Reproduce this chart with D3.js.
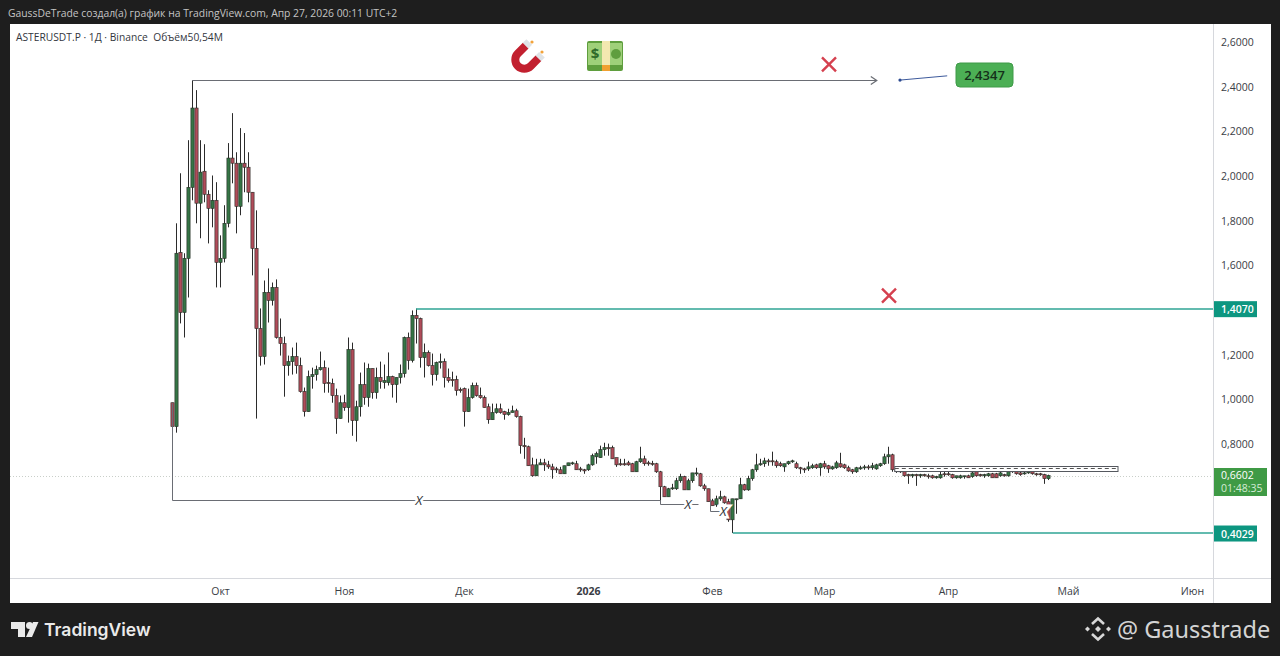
<!DOCTYPE html>
<html>
<head>
<meta charset="utf-8">
<script src="https://cdn.jsdelivr.net/npm/d3@7"></script>
<style>
html, body { margin: 0; padding: 0; background: #1e1e1e; overflow: hidden; }
svg { display: block; }
</style>
</head>
<body>
<div id="chart"></div>
<script>
// ASTERUSDT.P daily candles. Index 0 is 2025-09-19.
const opens = [
  .986,.879,1.659,1.390,1.632,1.950,2.305,1.879,2.022,1.919,
  1.856,1.892,1.614,1.632,1.789,2.081,2.058,1.865,2.058,2.040,
  1.928,1.677,1.318,1.193,1.480,1.444,1.502,1.278,1.251,1.152,
  1.170,1.193,1.152,1.036,.946,1.103,1.112,1.134,1.143,1.076,
  1.072,1.018,.915,.986,.964,1.224,.906,.968,1.067,1.009,
  1.139,1.031,1.099,1.076,1.076,1.103,1.067,1.099,1.116,1.278,
  1.175,1.377,1.363,1.188,1.211,1.152,1.112,1.166,1.170,1.099,
  1.090,1.090,1.045,1.049,.946,1.009,1.063,1.018,1.009,.968,
  .910,.942,.959,.946,.933,.942,.950,.924,.794,.789,
  .708,.659,.708,.717,.708,.699,.690,.686,.668,.704,
  .713,.713,.690,.686,.686,.708,.744,.740,.776,.785,
  .785,.740,.713,.713,.717,.713,.677,.722,.735,.717,
  .715,.713,.677,.610,.565,.601,.601,.637,.655,.596,
  .637,.668,.668,.614,.601,.547,.529,.556,.565,.543,
  .462,.552,.556,.619,.596,.646,.686,.708,.713,.726,
  .726,.722,.713,.699,.713,.722,.713,.695,.690,.690,
  .695,.708,.695,.713,.704,.690,.695,.713,.708,.695,
  .686,.677,.690,.695,.699,.695,.690,.704,.713,.744,
  .753,.686,.681,.681,.664,.659,.664,.659,.664,.659,
  .659,.650,.650,.668,.668,.664,.650,.650,.655,.659,
  .655,.677,.664,.659,.659,.668,.668,.659,.664,.659,
  .677,.681,.672,.668,.672,.677,.668,.668,.664,.646
];
const highs = [
  .986,1.789,2.013,1.655,2.161,2.430,2.385,2.161,2.143,1.937,
  2.003,1.973,1.735,1.870,2.148,2.282,2.107,2.215,2.193,2.107,
  1.928,1.847,1.408,1.533,1.587,1.524,1.538,1.363,1.282,1.197,
  1.233,1.255,1.188,1.054,1.130,1.143,1.152,1.215,1.175,1.143,
  1.094,1.049,1.018,1.022,1.278,1.255,.995,1.121,1.166,1.161,
  1.139,1.143,1.170,1.157,1.211,1.107,1.099,1.157,1.282,1.300,
  1.399,1.407,1.367,1.251,1.220,1.206,1.170,1.206,1.184,1.139,
  1.125,1.107,1.054,1.054,1.049,1.076,1.076,1.054,1.018,.982,
  .982,.982,.982,.950,.959,.973,.959,.928,.829,.794,
  .740,.735,.735,.735,.726,.713,.699,.699,.704,.717,
  .722,.726,.699,.690,.713,.758,.767,.794,.807,.803,
  .794,.740,.735,.735,.726,.717,.726,.789,.749,.726,
  .726,.717,.681,.614,.605,.623,.650,.668,.659,.646,
  .672,.695,.672,.623,.601,.556,.570,.592,.570,.556,
  .556,.556,.650,.623,.659,.690,.758,.735,.740,.735,
  .767,.731,.722,.713,.726,.731,.722,.699,.695,.722,
  .713,.713,.717,.726,.708,.704,.726,.762,.713,.704,
  .690,.699,.704,.708,.708,.717,.713,.717,.758,.789,
  .758,.690,.686,.690,.668,.668,.668,.668,.668,.668,
  .664,.659,.686,.677,.681,.668,.659,.664,.659,.664,
  .677,.681,.668,.668,.672,.672,.672,.695,.668,.686,
  .695,.690,.681,.677,.681,.695,.672,.672,.668,.664
];
const lows = [
  .861,.852,1.341,1.278,1.457,1.892,1.789,1.722,1.883,1.699,
  1.771,1.502,1.502,1.614,1.771,1.968,1.744,1.825,1.928,1.883,
  1.556,.915,1.152,1.157,1.345,1.421,1.273,1.197,1.013,1.107,
  1.112,1.116,1.031,.924,.946,1.049,1.085,1.130,1.031,1.031,
  .986,.847,.915,.950,.897,.838,.812,.924,.977,.968,
  1.004,1.004,1.049,1.049,1.063,1.009,.986,1.072,1.099,1.134,
  1.166,1.251,1.143,1.099,1.148,1.063,1.085,1.139,1.054,1.076,
  1.058,1.018,1.031,.879,.946,1.004,1.013,1.004,.964,.892,
  .910,.937,.937,.910,.928,.942,.919,.758,.735,.704,
  .655,.659,.708,.681,.690,.646,.672,.668,.668,.704,
  .708,.686,.677,.668,.681,.704,.713,.740,.749,.749,
  .735,.699,.704,.704,.704,.677,.677,.717,.704,.704,
  .704,.672,.547,.565,.565,.596,.596,.628,.596,.596,
  .628,.659,.610,.592,.543,.525,.520,.547,.534,.453,
  .403,.489,.556,.592,.592,.637,.677,.704,.699,.704,
  .704,.695,.699,.677,.708,.717,.690,.668,.672,.681,
  .690,.690,.659,.690,.672,.686,.690,.695,.690,.677,
  .668,.672,.686,.686,.686,.686,.686,.699,.708,.713,
  .677,.672,.672,.655,.623,.650,.614,.650,.655,.646,
  .646,.646,.646,.655,.659,.646,.646,.646,.646,.650,
  .650,.655,.655,.650,.655,.650,.650,.655,.655,.655,
  .672,.664,.659,.664,.668,.664,.659,.659,.623,.640
];
const closes = [
  .879,1.655,1.390,1.632,1.950,2.305,1.879,2.018,1.919,1.856,
  1.892,1.614,1.632,1.789,2.081,2.058,1.865,2.058,2.040,1.928,
  1.677,1.318,1.193,1.480,1.444,1.502,1.278,1.251,1.152,1.170,
  1.193,1.152,1.036,.946,1.103,1.112,1.134,1.143,1.072,1.072,
  1.018,.915,.986,.964,1.224,.906,.968,1.067,1.009,1.139,
  1.031,1.099,1.081,1.085,1.103,1.067,1.099,1.116,1.278,1.175,
  1.377,1.363,1.188,1.211,1.152,1.112,1.166,1.170,1.099,1.085,
  1.085,1.040,1.040,.946,1.009,1.063,1.018,1.009,.964,.910,
  .942,.959,.942,.933,.942,.950,.924,.794,.789,.704,
  .659,.708,.717,.708,.699,.686,.686,.668,.704,.717,
  .717,.686,.686,.681,.708,.749,.758,.776,.785,.780,
  .735,.708,.708,.708,.708,.677,.722,.735,.713,.713,
  .713,.677,.610,.565,.601,.605,.637,.655,.596,.637,
  .672,.672,.614,.601,.543,.525,.556,.565,.538,.462,
  .556,.556,.619,.596,.646,.686,.708,.713,.726,.722,
  .722,.704,.704,.713,.722,.726,.695,.690,.686,.699,
  .704,.695,.713,.699,.690,.699,.717,.699,.695,.681,
  .677,.695,.695,.699,.695,.704,.708,.713,.744,.753,
  .686,.677,.677,.659,.659,.664,.659,.664,.659,.655,
  .650,.655,.664,.664,.664,.650,.659,.659,.659,.650,
  .672,.659,.659,.664,.668,.650,.650,.672,.659,.681,
  .686,.668,.664,.672,.677,.668,.664,.664,.646,.6602
];

const firstDay = Date.UTC(2025, 8, 19);
const priceTicks = [2.6, 2.4, 2.2, 2.0, 1.8, 1.6, 1.2, 1.0, 0.8];
const monthTicks = [
  [Date.UTC(2025, 9, 1), 'Окт'], [Date.UTC(2025, 10, 1), 'Ноя'], [Date.UTC(2025, 11, 1), 'Дек'],
  [Date.UTC(2026, 0, 1), '2026'], [Date.UTC(2026, 1, 1), 'Фев'], [Date.UTC(2026, 2, 1), 'Мар'],
  [Date.UTC(2026, 3, 1), 'Апр'], [Date.UTC(2026, 4, 1), 'Май'], [Date.UTC(2026, 5, 1), 'Июн']
];
const lastPrice = 0.6602;
const lowPrice = 0.4029;
const highLevel = 1.4070;
const targetPrice = 2.4347;

const width = 1280;
const height = 656;
const plot = { left: 10, top: 24, right: 1213, bottom: 578, outerRight: 1271, outerBottom: 603 };
const upColor = '#357545';
const downColor = '#b04c59';
const candleEdge = '#262b24';
const drawGray = '#6a6d74';
const uiFont = '"Open Sans", "Noto Sans", sans-serif';

const x = d3.scaleUtc()
  .domain([new Date(firstDay), new Date(Date.UTC(2026, 5, 1))])
  .range([172, 1192]);
const y = d3.scaleLinear().domain([1, 2.6]).range([399.6, 42.1]);
const xDay = i => x(new Date(firstDay + i * 864e5));
const comma = v => v.toFixed(4).replace('.', ',');
const crisp = v => Math.round(v) + .5;

const svg = d3.select('#chart').append('svg')
  .attr('width', width).attr('height', height)
  .style('font-family', uiFont);

// page frame
svg.append('rect').attr('width', width).attr('height', height).attr('fill', '#1e1e1e');
svg.append('rect')
  .attr('x', plot.left).attr('y', plot.top)
  .attr('width', plot.outerRight - plot.left).attr('height', plot.outerBottom - plot.top)
  .attr('fill', '#fff');
svg.append('line').attr('x1', plot.right + .5).attr('x2', plot.right + .5)
  .attr('y1', plot.top).attr('y2', plot.outerBottom).attr('stroke', '#d6d8dd');
svg.append('line').attr('x1', plot.left).attr('x2', plot.outerRight)
  .attr('y1', plot.bottom + .5).attr('y2', plot.bottom + .5).attr('stroke', '#d6d8dd');

// last price dotted line
svg.append('line')
  .attr('x1', plot.left).attr('x2', plot.right)
  .attr('y1', crisp(y(lastPrice))).attr('y2', crisp(y(lastPrice)))
  .attr('stroke', '#c9cfc9').attr('stroke-dasharray', '1 2');

// axes
const yAxis = svg.append('g')
  .attr('transform', `translate(${plot.right},0)`)
  .call(d3.axisRight(y).tickValues(priceTicks).tickSize(0).tickPadding(8).tickFormat(comma));
yAxis.select('.domain').remove();
yAxis.selectAll('text').attr('fill', '#3a3d45').style('font-size', '10.5px').style('font-family', uiFont);

const xAxis = svg.append('g')
  .attr('transform', `translate(0,${plot.bottom})`)
  .call(d3.axisBottom(x).tickValues(monthTicks.map(d => new Date(d[0]))).tickSize(0).tickPadding(10)
    .tickFormat((d, i) => monthTicks[i][1]));
xAxis.select('.domain').remove();
xAxis.selectAll('text').attr('fill', '#3a3d45').style('font-size', '10.5px').style('font-family', uiFont)
  .style('font-weight', (d, i) => monthTicks[i][1] === '2026' ? 700 : 400);

// candles
const candles = svg.append('g').selectAll('g')
  .data(opens.map((o, i) => ({ i, o, h: highs[i], l: lows[i], c: closes[i] })))
  .join('g');
candles.append('line')
  .attr('x1', d => xDay(d.i) + .5).attr('x2', d => xDay(d.i) + .5)
  .attr('y1', d => y(d.h)).attr('y2', d => y(d.l))
  .attr('stroke', '#2b2b2b').attr('stroke-width', 1);
candles.append('rect')
  .attr('x', d => xDay(d.i) - 1.1)
  .attr('width', 3.2)
  .attr('y', d => y(Math.max(d.o, d.c)))
  .attr('height', d => Math.max(1, Math.abs(y(d.o) - y(d.c))))
  .attr('fill', d => d.c >= d.o ? upColor : downColor)
  .attr('stroke', candleEdge).attr('stroke-width', .6);

// drawings: long arrow to the target
const arrowY = crisp(y(2.43));
svg.append('line').attr('x1', xDay(5)).attr('x2', xDay(176.2))
  .attr('y1', arrowY).attr('y2', arrowY).attr('stroke', drawGray).attr('stroke-width', 1.2);
svg.append('path')
  .attr('d', d3.line()([[xDay(176.2) - 6, arrowY - 4], [xDay(176.2), arrowY], [xDay(176.2) - 6, arrowY + 4]]))
  .attr('fill', 'none').attr('stroke', drawGray).attr('stroke-width', 1.2);

// teal levels, a bit over a pixel wide or the colour washes out
[[61, highLevel], [140.2, lowPrice]].forEach(d => {
  svg.append('line').attr('x1', xDay(d[0])).attr('x2', plot.right)
    .attr('y1', Math.round(y(d[1]))).attr('y2', Math.round(y(d[1])))
    .attr('stroke', '#2fa595').attr('stroke-width', 1.5);
});

// gray stepped lines with x marks
const stepLines = [
  [[0, .986], [0, .55], [122, .55]],
  [[122, .55], [122, .533], [131.5, .533]],
  [[134.5, .533], [134.5, .556], [134.5, .503], [137.5, .503]]
];
stepLines.forEach(pts => {
  svg.append('path')
    .attr('d', d3.line().x(d => Math.round(xDay(d[0])) + .5).y(d => crisp(y(d[1])))(pts))
    .attr('fill', 'none').attr('stroke', drawGray).attr('stroke-width', 1);
});
const xMarks = [[61.7, .55], [129, .533], [137.8, .503]];
svg.append('g').selectAll('text').data(xMarks).join('text')
  .attr('x', d => xDay(d[0])).attr('y', d => y(d[1]) + 5)
  .attr('text-anchor', 'middle')
  .attr('fill', '#2f3238').style('font-size', '13px').style('font-style', 'italic')
  .attr('stroke', '#fff').attr('stroke-width', 5).attr('paint-order', 'stroke')
  .text('X');

// dashed box at the end of the range
svg.append('rect')
  .attr('x', xDay(180.7)).attr('width', xDay(236.5) - xDay(180.7))
  .attr('y', crisp(y(.704))).attr('height', 5)
  .attr('fill', '#fff').attr('stroke', '#55585f').attr('stroke-width', 1);
svg.append('line').attr('x1', xDay(180.7)).attr('x2', xDay(236.5))
  .attr('y1', crisp(y(.6925))).attr('y2', crisp(y(.6925)))
  .attr('stroke', '#555').attr('stroke-width', 1).attr('stroke-dasharray', '4 3');

// red crosses
const crosses = [[164, 2.50], [179, 1.465]];
svg.append('g').selectAll('path').data(crosses).join('path')
  .attr('transform', d => `translate(${xDay(d[0]) + 1},${y(d[1])})`)
  .attr('d', 'M-7,-7L7,7M7,-7L-7,7')
  .attr('stroke', '#d5404f').attr('stroke-width', 2.4).attr('fill', 'none');

// callout with the target
const calloutFrom = [182, 2.43];
const calloutTo = [193.8, 2.449];
svg.append('line')
  .attr('x1', xDay(calloutFrom[0])).attr('x2', xDay(calloutTo[0]))
  .attr('y1', y(calloutFrom[1])).attr('y2', y(calloutTo[1]))
  .attr('stroke', '#3d5a9c').attr('stroke-width', 1);
svg.append('circle').attr('cx', xDay(calloutFrom[0])).attr('cy', y(calloutFrom[1])).attr('r', 1.6).attr('fill', '#2c4a90');
svg.append('rect').attr('x', 956).attr('y', 63).attr('width', 57).attr('height', 24).attr('rx', 4)
  .attr('fill', '#4caf55').attr('stroke', '#3e9a48');
svg.append('text').attr('x', 984.5).attr('y', 80).attr('text-anchor', 'middle')
  .attr('fill', '#14301a').style('font-size', '13px').style('font-weight', 600)
  .text(comma(targetPrice));

// price labels on the scale
const priceLabels = [[highLevel, '#0d9680'], [lowPrice, '#0d9680']];
priceLabels.forEach(d => {
  svg.append('rect').attr('x', plot.right + 1).attr('y', y(d[0]) - 7.5).attr('width', 43).attr('height', 16).attr('fill', d[1]);
  svg.append('text').attr('x', plot.right + 8).attr('y', y(d[0]) + 4.5)
    .attr('fill', '#fff').style('font-size', '10.5px').style('font-weight', 600).text(comma(d[0]));
});
svg.append('rect').attr('x', plot.right + 1).attr('y', 468).attr('width', 53).attr('height', 28).attr('fill', '#3f9a45');
svg.append('text').attr('x', plot.right + 8).attr('y', 479)
  .attr('fill', '#fff').style('font-size', '10.5px').text(comma(lastPrice));
svg.append('text').attr('x', plot.right + 8).attr('y', 492)
  .attr('fill', '#d5ecd5').style('font-size', '10.5px').text('01:48:35');

// title and legend
svg.append('text').attr('x', 8).attr('y', 17)
  .attr('fill', '#c4c4c4').style('font-size', '10.35px')
  .text('GaussDeTrade создал(а) график на TradingView.com, Апр 27, 2026 00:11 UTC+2');
svg.append('text').attr('x', 16).attr('y', 41)
  .attr('fill', '#33363d').style('font-size', '10.25px')
  .style('white-space', 'pre')
  .text('ASTERUSDT.P · 1Д · Binance  Объём50,54M');

// magnet sticker
const magnet = svg.append('g').attr('transform', 'translate(525,59) rotate(45)');
magnet.append('path')
  .attr('d', 'M-9,-10V1A9,9 0 0 0 9,1V-10')
  .attr('fill', 'none').attr('stroke', '#c2202f').attr('stroke-width', 8);
magnet.append('rect').attr('x', -13).attr('y', -15).attr('width', 8).attr('height', 5).attr('fill', '#dfe3e6');
magnet.append('rect').attr('x', 5).attr('y', -15).attr('width', 8).attr('height', 5).attr('fill', '#dfe3e6');
svg.append('circle').attr('cx', 532).attr('cy', 42).attr('r', 1.6).attr('fill', '#f2a33a');
svg.append('circle').attr('cx', 542).attr('cy', 52).attr('r', 1.6).attr('fill', '#f2a33a');

// money sticker
const money = svg.append('g').attr('transform', 'translate(587,41)');
money.append('rect').attr('width', 36).attr('height', 30).attr('rx', 2).attr('fill', '#5f9e3e');
money.append('rect').attr('x', 1).attr('y', 2).attr('width', 34).attr('height', 22).attr('fill', '#9fd07a');
money.append('rect').attr('x', 15).attr('width', 8).attr('height', 30).attr('fill', '#f3e8b0');
money.append('rect').attr('x', 15).attr('y', 24).attr('width', 8).attr('height', 6).attr('fill', '#f0a030');
money.append('circle').attr('cx', 29).attr('cy', 13).attr('r', 5).attr('fill', '#5f9e3e');
money.append('text').attr('x', 8).attr('y', 18).attr('text-anchor', 'middle')
  .attr('fill', '#2f6b2a').style('font-size', '15px').style('font-weight', 700).text('$');

// TradingView logo
const logo = svg.append('g').attr('transform', 'translate(11,622)').attr('fill', '#eaeaea');
logo.append('path').attr('d', 'M0,0H14V15H7V7H0Z');
logo.append('circle').attr('cx', 18.5).attr('cy', 3.5).attr('r', 3.5);
logo.append('path').attr('d', 'M22,0H27.5L21,15H15Z');
svg.append('text').attr('x', 44).attr('y', 636)
  .attr('fill', '#eaeaea').style('font-size', '17.5px').style('font-weight', 600)
  .style('font-family', 'Inter, Roboto, sans-serif').text('TradingView');

// Binance mark and handle
const binance = svg.append('g').attr('transform', 'translate(1098,629)').attr('fill', 'none').attr('stroke', '#d8d8d8').attr('stroke-width', 2.6);
binance.append('path').attr('d', 'M-6,-5L0,-10.5L6,-5');
binance.append('path').attr('d', 'M-6,5L0,10.5L6,5');
binance.append('path').attr('d', 'M-3,0L0,-3L3,0L0,3Z').attr('fill', '#d8d8d8').attr('stroke', 'none');
binance.append('path').attr('d', 'M-13,0L-10.5,-2.5L-8,0L-10.5,2.5Z').attr('fill', '#d8d8d8').attr('stroke', 'none');
binance.append('path').attr('d', 'M13,0L10.5,-2.5L8,0L10.5,2.5Z').attr('fill', '#d8d8d8').attr('stroke', 'none');
svg.append('text').attr('x', 1117).attr('y', 638)
  .attr('fill', '#d4d4d4').style('font-size', '23.5px')
  .style('font-family', '"Noto Sans", "Open Sans", sans-serif').text('@ Gausstrade');
</script>
</body>
</html>
